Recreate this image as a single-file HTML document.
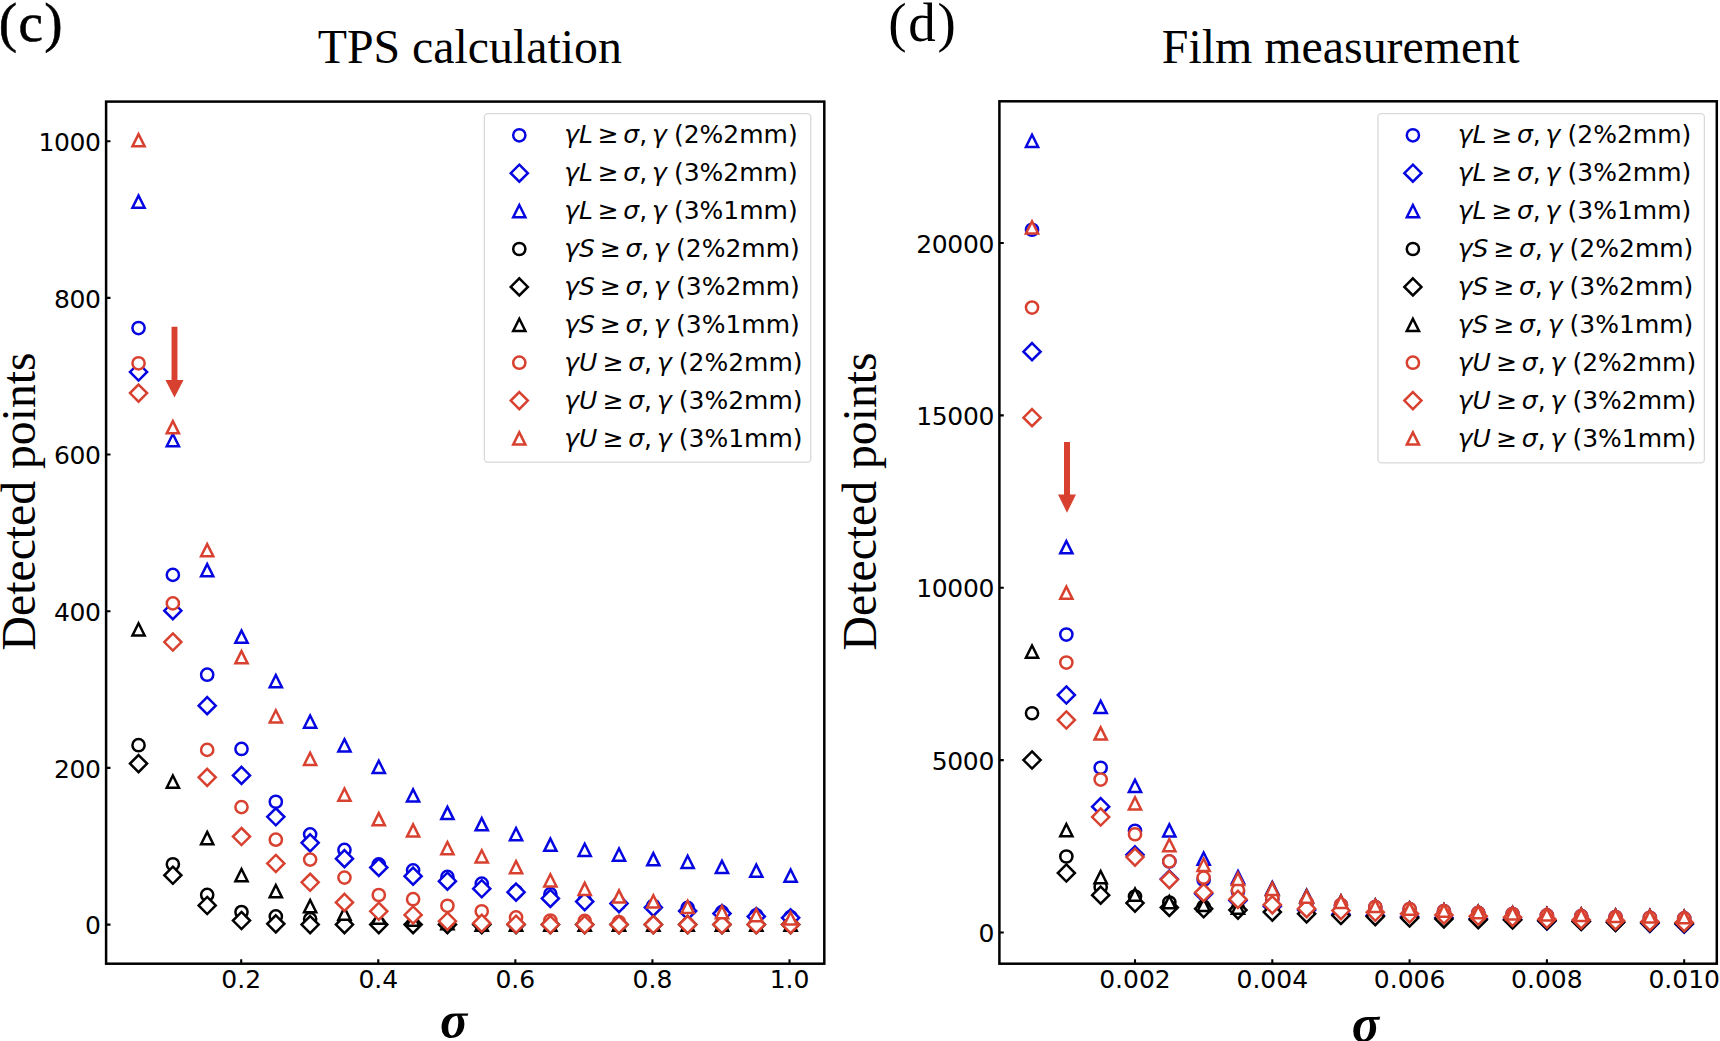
<!DOCTYPE html>
<html lang="en"><head><meta charset="utf-8"><title>Detected points vs sigma</title>
<style>html,body{margin:0;padding:0;background:#fff}svg{display:block}.tk{font-family:"DejaVu Sans","Liberation Sans",sans-serif;font-size:25px;fill:#000}.lg{font-family:"DejaVu Sans","Liberation Sans",sans-serif;font-size:25px;fill:#000}.it{font-style:italic}.sf{font-family:"Liberation Serif",serif;fill:#000}</style></head><body>
<svg width="1720" height="1041" viewBox="0 0 1720 1041">
<rect width="1720" height="1041" fill="#fff"/>
<defs>
<circle id="mc" r="6.1" fill="#fff" stroke-width="2.5"/>
<path id="md" d="M0 -8.55 L8.55 0 L0 8.55 L-8.55 0 Z" fill="#fff" stroke-width="2.5" stroke-linejoin="miter"/>
<path id="mt" d="M0 -6.1 L6.1 6.1 L-6.1 6.1 Z" fill="#fff" stroke-width="2.5" stroke-linejoin="miter" stroke-miterlimit="10"/>
</defs>
<text class="sf" x="-1.2" y="40.8" font-size="55" letter-spacing="1.3" stroke="#000" stroke-width="0.55">(c)</text>
<text class="sf" x="888.3" y="41" font-size="55" letter-spacing="1.7">(d)</text>
<text class="sf" x="317.8" y="62.8" font-size="47.8">TPS calculation</text>
<text class="sf" x="1161.8" y="62.6" font-size="47.9">Film measurement</text>
<g stroke="#0606e0">
<use href="#mc" x="138.54" y="328.04"/><use href="#mc" x="172.86" y="574.89"/><use href="#mc" x="207.18" y="674.7"/><use href="#mc" x="241.5" y="748.96"/><use href="#mc" x="275.82" y="801.76"/><use href="#mc" x="310.14" y="834.35"/><use href="#mc" x="344.46" y="849.86"/><use href="#mc" x="378.78" y="864.43"/><use href="#mc" x="413.1" y="870.39"/><use href="#mc" x="447.42" y="876.89"/><use href="#mc" x="481.74" y="883.71"/><use href="#mc" x="516.06" y="891.7"/><use href="#mc" x="550.38" y="894.13"/><use href="#mc" x="584.7" y="900.31"/><use href="#mc" x="619.02" y="903.45"/><use href="#mc" x="653.34" y="905.8"/><use href="#mc" x="687.66" y="907.84"/><use href="#mc" x="721.98" y="912.14"/><use href="#mc" x="756.3" y="915.28"/><use href="#mc" x="790.62" y="917"/>
</g>
<g stroke="#0606e0">
<use href="#md" x="138.54" y="371.99"/><use href="#md" x="172.86" y="610.69"/><use href="#md" x="207.18" y="705.64"/><use href="#md" x="241.5" y="775.44"/><use href="#md" x="275.82" y="816.8"/><use href="#md" x="310.14" y="842.81"/><use href="#md" x="344.46" y="858.64"/><use href="#md" x="378.78" y="867.41"/><use href="#md" x="413.1" y="876.19"/><use href="#md" x="447.42" y="881.2"/><use href="#md" x="481.74" y="888.72"/><use href="#md" x="516.06" y="892.17"/><use href="#md" x="550.38" y="898.43"/><use href="#md" x="584.7" y="901.57"/><use href="#md" x="619.02" y="903.6"/><use href="#md" x="653.34" y="907.44"/><use href="#md" x="687.66" y="910.97"/><use href="#md" x="721.98" y="913.55"/><use href="#md" x="756.3" y="916.45"/><use href="#md" x="790.62" y="917.86"/>
</g>
<g stroke="#0606e0">
<use href="#mt" x="138.54" y="201.68"/><use href="#mt" x="172.86" y="440.07"/><use href="#mt" x="207.18" y="570.19"/><use href="#mt" x="241.5" y="636.7"/><use href="#mt" x="275.82" y="681.04"/><use href="#mt" x="310.14" y="721.54"/><use href="#mt" x="344.46" y="745.28"/><use href="#mt" x="378.78" y="766.82"/><use href="#mt" x="413.1" y="795.42"/><use href="#mt" x="447.42" y="812.97"/><use href="#mt" x="481.74" y="824.25"/><use href="#mt" x="516.06" y="834.12"/><use href="#mt" x="550.38" y="844.77"/><use href="#mt" x="584.7" y="849.79"/><use href="#mt" x="619.02" y="854.64"/><use href="#mt" x="653.34" y="859.26"/><use href="#mt" x="687.66" y="861.85"/><use href="#mt" x="721.98" y="866.94"/><use href="#mt" x="756.3" y="870.7"/><use href="#mt" x="790.62" y="875.64"/>
</g>
<g stroke="#000000">
<use href="#mc" x="138.54" y="745.2"/><use href="#mc" x="172.86" y="864.28"/><use href="#mc" x="207.18" y="894.83"/><use href="#mc" x="241.5" y="912.07"/><use href="#mc" x="275.82" y="916.45"/><use href="#mc" x="310.14" y="919.12"/><use href="#mc" x="344.46" y="922.25"/><use href="#mc" x="378.78" y="923.82"/><use href="#mc" x="413.1" y="924.21"/><use href="#mc" x="447.42" y="924.6"/><use href="#mc" x="481.74" y="924.6"/><use href="#mc" x="516.06" y="924.6"/><use href="#mc" x="550.38" y="924.6"/><use href="#mc" x="584.7" y="924.6"/><use href="#mc" x="619.02" y="924.6"/><use href="#mc" x="653.34" y="924.6"/><use href="#mc" x="687.66" y="924.6"/><use href="#mc" x="721.98" y="924.6"/><use href="#mc" x="756.3" y="924.6"/><use href="#mc" x="790.62" y="924.6"/>
</g>
<g stroke="#000000">
<use href="#md" x="138.54" y="763.61"/><use href="#md" x="172.86" y="875.25"/><use href="#md" x="207.18" y="905.49"/><use href="#md" x="241.5" y="920.53"/><use href="#md" x="275.82" y="923.82"/><use href="#md" x="310.14" y="924.6"/><use href="#md" x="344.46" y="924.6"/><use href="#md" x="378.78" y="924.6"/><use href="#md" x="413.1" y="924.6"/><use href="#md" x="447.42" y="924.6"/><use href="#md" x="481.74" y="924.6"/><use href="#md" x="516.06" y="924.6"/><use href="#md" x="550.38" y="924.6"/><use href="#md" x="584.7" y="924.6"/><use href="#md" x="619.02" y="924.6"/><use href="#md" x="653.34" y="924.6"/><use href="#md" x="687.66" y="924.6"/><use href="#md" x="721.98" y="924.6"/><use href="#md" x="756.3" y="924.6"/><use href="#md" x="790.62" y="924.6"/>
</g>
<g stroke="#000000">
<use href="#mt" x="138.54" y="629.34"/><use href="#mt" x="172.86" y="781.63"/><use href="#mt" x="207.18" y="838.03"/><use href="#mt" x="241.5" y="875.09"/><use href="#mt" x="275.82" y="891.15"/><use href="#mt" x="310.14" y="906.11"/><use href="#mt" x="344.46" y="913.71"/><use href="#mt" x="378.78" y="917.63"/><use href="#mt" x="413.1" y="919.66"/><use href="#mt" x="447.42" y="923.03"/><use href="#mt" x="481.74" y="924.6"/><use href="#mt" x="516.06" y="924.6"/><use href="#mt" x="550.38" y="924.6"/><use href="#mt" x="584.7" y="924.6"/><use href="#mt" x="619.02" y="924.6"/><use href="#mt" x="653.34" y="924.6"/><use href="#mt" x="687.66" y="924.6"/><use href="#mt" x="721.98" y="924.6"/><use href="#mt" x="756.3" y="924.6"/><use href="#mt" x="790.62" y="924.6"/>
</g>
<g stroke="#d84130">
<use href="#mc" x="138.54" y="363.29"/><use href="#mc" x="172.86" y="603.41"/><use href="#mc" x="207.18" y="749.9"/><use href="#mc" x="241.5" y="807.09"/><use href="#mc" x="275.82" y="839.68"/><use href="#mc" x="310.14" y="859.58"/><use href="#mc" x="344.46" y="877.6"/><use href="#mc" x="378.78" y="894.99"/><use href="#mc" x="413.1" y="899.22"/><use href="#mc" x="447.42" y="905.8"/><use href="#mc" x="481.74" y="911.28"/><use href="#mc" x="516.06" y="917.39"/><use href="#mc" x="550.38" y="920.53"/><use href="#mc" x="584.7" y="920.92"/><use href="#mc" x="619.02" y="922.09"/><use href="#mc" x="653.34" y="923.97"/><use href="#mc" x="687.66" y="924.21"/><use href="#mc" x="721.98" y="924.36"/><use href="#mc" x="756.3" y="924.6"/><use href="#mc" x="790.62" y="924.6"/>
</g>
<g stroke="#d84130">
<use href="#md" x="138.54" y="393.06"/><use href="#md" x="172.86" y="642.03"/><use href="#md" x="207.18" y="777.32"/><use href="#md" x="241.5" y="836.55"/><use href="#md" x="275.82" y="863.49"/><use href="#md" x="310.14" y="882.3"/><use href="#md" x="344.46" y="902.43"/><use href="#md" x="378.78" y="911.28"/><use href="#md" x="413.1" y="914.96"/><use href="#md" x="447.42" y="921.23"/><use href="#md" x="481.74" y="923.27"/><use href="#md" x="516.06" y="924.21"/><use href="#md" x="550.38" y="924.6"/><use href="#md" x="584.7" y="924.6"/><use href="#md" x="619.02" y="924.6"/><use href="#md" x="653.34" y="924.6"/><use href="#md" x="687.66" y="924.6"/><use href="#md" x="721.98" y="924.6"/><use href="#md" x="756.3" y="924.6"/><use href="#md" x="790.62" y="924.6"/>
</g>
<g stroke="#d84130">
<use href="#mt" x="138.54" y="140.26"/><use href="#mt" x="172.86" y="427.22"/><use href="#mt" x="207.18" y="550.21"/><use href="#mt" x="241.5" y="657.23"/><use href="#mt" x="275.82" y="716.29"/><use href="#mt" x="310.14" y="758.91"/><use href="#mt" x="344.46" y="794.63"/><use href="#mt" x="378.78" y="819.23"/><use href="#mt" x="413.1" y="830.51"/><use href="#mt" x="447.42" y="848.06"/><use href="#mt" x="481.74" y="856.29"/><use href="#mt" x="516.06" y="867.18"/><use href="#mt" x="550.38" y="880.34"/><use href="#mt" x="584.7" y="888.96"/><use href="#mt" x="619.02" y="896.48"/><use href="#mt" x="653.34" y="901.41"/><use href="#mt" x="687.66" y="906.9"/><use href="#mt" x="721.98" y="912.07"/><use href="#mt" x="756.3" y="915.2"/><use href="#mt" x="790.62" y="918.33"/>
</g>
<path d="M241.2 963.7 V959.3 M378.28 963.7 V959.3 M515.36 963.7 V959.3 M652.44 963.7 V959.3 M789.52 963.7 V959.3 M106.1 924.6 H110.5 M106.1 767.92 H110.5 M106.1 611.24 H110.5 M106.1 454.56 H110.5 M106.1 297.88 H110.5 M106.1 141.2 H110.5" stroke="#000" stroke-width="2.1" fill="none"/>
<rect x="106.1" y="101.6" width="718.2" height="862.1" fill="none" stroke="#000" stroke-width="2.5"/>
<text class="tk" x="241.2" y="987.5" text-anchor="middle">0.2</text>
<text class="tk" x="378.28" y="987.5" text-anchor="middle">0.4</text>
<text class="tk" x="515.36" y="987.5" text-anchor="middle">0.6</text>
<text class="tk" x="652.44" y="987.5" text-anchor="middle">0.8</text>
<text class="tk" x="789.52" y="987.5" text-anchor="middle">1.0</text>
<text class="tk" x="100.6" y="934.3" text-anchor="end" letter-spacing="-0.4">0</text>
<text class="tk" x="100.6" y="777.62" text-anchor="end" letter-spacing="-0.4">200</text>
<text class="tk" x="100.6" y="620.94" text-anchor="end" letter-spacing="-0.4">400</text>
<text class="tk" x="100.6" y="464.26" text-anchor="end" letter-spacing="-0.4">600</text>
<text class="tk" x="100.6" y="307.58" text-anchor="end" letter-spacing="-0.4">800</text>
<text class="tk" x="100.6" y="150.9" text-anchor="end" letter-spacing="-0.4">1000</text>
<rect x="484.4" y="113.7" width="326.4" height="348.5" rx="3.5" ry="3.5" fill="#fff" fill-opacity="0.8" stroke="#d9d9d9" stroke-width="1.3"/>
<use href="#mc" x="519.3" y="135.3" stroke="#0606e0"/>
<text class="lg" y="143.4"><tspan class="it" x="564.2">γL</tspan><tspan x="589.85"> ≥ </tspan><tspan class="it" x="623.3">σ</tspan>, <tspan class="it" x="652">γ</tspan><tspan x="665.95"> (2%2mm)</tspan></text>
<use href="#md" x="519.3" y="173.2" stroke="#0606e0"/>
<text class="lg" y="181.3"><tspan class="it" x="564.2">γL</tspan><tspan x="589.85"> ≥ </tspan><tspan class="it" x="623.3">σ</tspan>, <tspan class="it" x="652">γ</tspan><tspan x="665.95"> (3%2mm)</tspan></text>
<use href="#mt" x="519.3" y="211.1" stroke="#0606e0"/>
<text class="lg" y="219.2"><tspan class="it" x="564.2">γL</tspan><tspan x="589.85"> ≥ </tspan><tspan class="it" x="623.3">σ</tspan>, <tspan class="it" x="652">γ</tspan><tspan x="665.95"> (3%1mm)</tspan></text>
<use href="#mc" x="519.3" y="249" stroke="#000000"/>
<text class="lg" y="257.1"><tspan class="it" x="564.2">γS</tspan><tspan x="591.95"> ≥ </tspan><tspan class="it" x="625.4">σ</tspan>, <tspan class="it" x="654.1">γ</tspan><tspan x="668.05"> (2%2mm)</tspan></text>
<use href="#md" x="519.3" y="286.9" stroke="#000000"/>
<text class="lg" y="295"><tspan class="it" x="564.2">γS</tspan><tspan x="591.95"> ≥ </tspan><tspan class="it" x="625.4">σ</tspan>, <tspan class="it" x="654.1">γ</tspan><tspan x="668.05"> (3%2mm)</tspan></text>
<use href="#mt" x="519.3" y="324.8" stroke="#000000"/>
<text class="lg" y="332.9"><tspan class="it" x="564.2">γS</tspan><tspan x="591.95"> ≥ </tspan><tspan class="it" x="625.4">σ</tspan>, <tspan class="it" x="654.1">γ</tspan><tspan x="668.05"> (3%1mm)</tspan></text>
<use href="#mc" x="519.3" y="362.7" stroke="#d84130"/>
<text class="lg" y="370.8"><tspan class="it" x="564.2">γU</tspan><tspan x="594.75"> ≥ </tspan><tspan class="it" x="628.2">σ</tspan>, <tspan class="it" x="656.9">γ</tspan><tspan x="670.85"> (2%2mm)</tspan></text>
<use href="#md" x="519.3" y="400.6" stroke="#d84130"/>
<text class="lg" y="408.7"><tspan class="it" x="564.2">γU</tspan><tspan x="594.75"> ≥ </tspan><tspan class="it" x="628.2">σ</tspan>, <tspan class="it" x="656.9">γ</tspan><tspan x="670.85"> (3%2mm)</tspan></text>
<use href="#mt" x="519.3" y="438.5" stroke="#d84130"/>
<text class="lg" y="446.6"><tspan class="it" x="564.2">γU</tspan><tspan x="594.75"> ≥ </tspan><tspan class="it" x="628.2">σ</tspan>, <tspan class="it" x="656.9">γ</tspan><tspan x="670.85"> (3%1mm)</tspan></text>
<path d="M171.55 326.7 H177.45 V379.9 H183.55 L174.5 397.4 L165.45 379.9 H171.55 Z" fill="#d84130"/>
<g stroke="#0606e0">
<use href="#mc" x="1032.03" y="229.73"/><use href="#mc" x="1066.35" y="634.53"/><use href="#mc" x="1100.67" y="767.78"/><use href="#mc" x="1135" y="830.8"/><use href="#mc" x="1169.33" y="861.48"/><use href="#mc" x="1203.65" y="879.75"/><use href="#mc" x="1237.97" y="891.47"/><use href="#mc" x="1272.3" y="899.4"/><use href="#mc" x="1306.62" y="903.54"/><use href="#mc" x="1340.95" y="905.26"/><use href="#mc" x="1375.28" y="907.16"/><use href="#mc" x="1409.6" y="909.23"/><use href="#mc" x="1443.92" y="911.13"/><use href="#mc" x="1478.25" y="912.85"/><use href="#mc" x="1512.58" y="914.06"/><use href="#mc" x="1546.9" y="915.37"/><use href="#mc" x="1581.22" y="916.12"/><use href="#mc" x="1615.55" y="917.06"/><use href="#mc" x="1649.88" y="917.74"/><use href="#mc" x="1684.2" y="918.43"/>
</g>
<g stroke="#0606e0">
<use href="#md" x="1032.03" y="351.67"/><use href="#md" x="1066.35" y="695"/><use href="#md" x="1100.67" y="806.67"/><use href="#md" x="1135" y="854.86"/><use href="#md" x="1169.33" y="879.06"/><use href="#md" x="1203.65" y="893.72"/><use href="#md" x="1237.97" y="900.61"/><use href="#md" x="1272.3" y="906.3"/><use href="#md" x="1306.62" y="910.09"/><use href="#md" x="1340.95" y="914.23"/><use href="#md" x="1375.28" y="915.43"/><use href="#md" x="1409.6" y="916.81"/><use href="#md" x="1443.92" y="917.85"/><use href="#md" x="1478.25" y="918.71"/><use href="#md" x="1512.58" y="919.4"/><use href="#md" x="1546.9" y="920.92"/><use href="#md" x="1581.22" y="921.26"/><use href="#md" x="1615.55" y="922.16"/><use href="#md" x="1649.88" y="923.33"/><use href="#md" x="1684.2" y="924.19"/>
</g>
<g stroke="#0606e0">
<use href="#mt" x="1032.03" y="140.89"/><use href="#mt" x="1066.35" y="547.24"/><use href="#mt" x="1100.67" y="706.86"/><use href="#mt" x="1135" y="785.81"/><use href="#mt" x="1169.33" y="830.45"/><use href="#mt" x="1203.65" y="858.55"/><use href="#mt" x="1237.97" y="877.03"/><use href="#mt" x="1272.3" y="888.03"/><use href="#mt" x="1306.62" y="895.96"/><use href="#mt" x="1340.95" y="901.82"/><use href="#mt" x="1375.28" y="905.95"/><use href="#mt" x="1409.6" y="908.71"/><use href="#mt" x="1443.92" y="910.57"/><use href="#mt" x="1478.25" y="912.16"/><use href="#mt" x="1512.58" y="913.3"/><use href="#mt" x="1546.9" y="914.44"/><use href="#mt" x="1581.22" y="915.02"/><use href="#mt" x="1615.55" y="915.95"/><use href="#mt" x="1649.88" y="916.47"/><use href="#mt" x="1684.2" y="917.09"/>
</g>
<g stroke="#000000">
<use href="#mc" x="1032.03" y="713.24"/><use href="#mc" x="1066.35" y="856.52"/><use href="#mc" x="1100.67" y="886.99"/><use href="#mc" x="1135" y="896.51"/><use href="#mc" x="1169.33" y="902.54"/><use href="#mc" x="1203.65" y="906.64"/><use href="#mc" x="1237.97" y="908.71"/><use href="#mc" x="1272.3" y="910.44"/><use href="#mc" x="1306.62" y="911.82"/><use href="#mc" x="1340.95" y="910.57"/><use href="#mc" x="1375.28" y="912.23"/><use href="#mc" x="1409.6" y="913.71"/><use href="#mc" x="1443.92" y="915.12"/><use href="#mc" x="1478.25" y="916.3"/><use href="#mc" x="1512.58" y="917.33"/><use href="#mc" x="1546.9" y="919.3"/><use href="#mc" x="1581.22" y="919.92"/><use href="#mc" x="1615.55" y="920.85"/><use href="#mc" x="1649.88" y="921.85"/><use href="#mc" x="1684.2" y="922.61"/>
</g>
<g stroke="#000000">
<use href="#md" x="1032.03" y="760.02"/><use href="#md" x="1066.35" y="873"/><use href="#md" x="1100.67" y="895.13"/><use href="#md" x="1135" y="903.06"/><use href="#md" x="1169.33" y="907.4"/><use href="#md" x="1203.65" y="908.71"/><use href="#md" x="1237.97" y="910.09"/><use href="#md" x="1272.3" y="912.09"/><use href="#md" x="1306.62" y="913.81"/><use href="#md" x="1340.95" y="915.5"/><use href="#md" x="1375.28" y="916.57"/><use href="#md" x="1409.6" y="917.99"/><use href="#md" x="1443.92" y="918.88"/><use href="#md" x="1478.25" y="919.74"/><use href="#md" x="1512.58" y="919.99"/><use href="#md" x="1546.9" y="920.78"/><use href="#md" x="1581.22" y="921.54"/><use href="#md" x="1615.55" y="922.33"/><use href="#md" x="1649.88" y="922.85"/><use href="#md" x="1684.2" y="923.47"/>
</g>
<g stroke="#000000">
<use href="#mt" x="1032.03" y="651.63"/><use href="#mt" x="1066.35" y="830.11"/><use href="#mt" x="1100.67" y="877.13"/><use href="#mt" x="1135" y="894.58"/><use href="#mt" x="1169.33" y="902.16"/><use href="#mt" x="1203.65" y="904.92"/><use href="#mt" x="1237.97" y="907.68"/><use href="#mt" x="1272.3" y="888.79"/><use href="#mt" x="1306.62" y="896.58"/><use href="#mt" x="1340.95" y="901.82"/><use href="#mt" x="1375.28" y="905.95"/><use href="#mt" x="1409.6" y="908.71"/><use href="#mt" x="1443.92" y="910.57"/><use href="#mt" x="1478.25" y="912.16"/><use href="#mt" x="1512.58" y="913.3"/><use href="#mt" x="1546.9" y="914.44"/><use href="#mt" x="1581.22" y="915.02"/><use href="#mt" x="1615.55" y="915.95"/><use href="#mt" x="1649.88" y="916.47"/><use href="#mt" x="1684.2" y="917.09"/>
</g>
<g stroke="#d84130">
<use href="#mc" x="1032.03" y="307.57"/><use href="#mc" x="1066.35" y="662.53"/><use href="#mc" x="1100.67" y="779.53"/><use href="#mc" x="1135" y="834.25"/><use href="#mc" x="1169.33" y="861.41"/><use href="#mc" x="1203.65" y="877.62"/><use href="#mc" x="1237.97" y="890.1"/><use href="#mc" x="1272.3" y="898.37"/><use href="#mc" x="1306.62" y="902.51"/><use href="#mc" x="1340.95" y="904.92"/><use href="#mc" x="1375.28" y="906.99"/><use href="#mc" x="1409.6" y="909.06"/><use href="#mc" x="1443.92" y="911.13"/><use href="#mc" x="1478.25" y="912.85"/><use href="#mc" x="1512.58" y="914.06"/><use href="#mc" x="1546.9" y="915.37"/><use href="#mc" x="1581.22" y="916.12"/><use href="#mc" x="1615.55" y="917.06"/><use href="#mc" x="1649.88" y="917.74"/><use href="#mc" x="1684.2" y="918.43"/>
</g>
<g stroke="#d84130">
<use href="#md" x="1032.03" y="417.68"/><use href="#md" x="1066.35" y="720"/><use href="#md" x="1100.67" y="817.01"/><use href="#md" x="1135" y="857.1"/><use href="#md" x="1169.33" y="879.58"/><use href="#md" x="1203.65" y="892.61"/><use href="#md" x="1237.97" y="899.34"/><use href="#md" x="1272.3" y="904.82"/><use href="#md" x="1306.62" y="908.64"/><use href="#md" x="1340.95" y="910.57"/><use href="#md" x="1375.28" y="912.23"/><use href="#md" x="1409.6" y="913.85"/><use href="#md" x="1443.92" y="915.12"/><use href="#md" x="1478.25" y="916.3"/><use href="#md" x="1512.58" y="917.33"/><use href="#md" x="1546.9" y="919.3"/><use href="#md" x="1581.22" y="919.92"/><use href="#md" x="1615.55" y="920.85"/><use href="#md" x="1649.88" y="921.85"/><use href="#md" x="1684.2" y="922.61"/>
</g>
<g stroke="#d84130">
<use href="#mt" x="1032.03" y="227.42"/><use href="#mt" x="1066.35" y="592.75"/><use href="#mt" x="1100.67" y="733.48"/><use href="#mt" x="1135" y="803.29"/><use href="#mt" x="1169.33" y="845.11"/><use href="#mt" x="1203.65" y="864.86"/><use href="#mt" x="1237.97" y="878.79"/><use href="#mt" x="1272.3" y="888.79"/><use href="#mt" x="1306.62" y="896.58"/><use href="#mt" x="1340.95" y="901.82"/><use href="#mt" x="1375.28" y="905.95"/><use href="#mt" x="1409.6" y="908.71"/><use href="#mt" x="1443.92" y="910.57"/><use href="#mt" x="1478.25" y="912.16"/><use href="#mt" x="1512.58" y="913.3"/><use href="#mt" x="1546.9" y="914.44"/><use href="#mt" x="1581.22" y="915.02"/><use href="#mt" x="1615.55" y="915.95"/><use href="#mt" x="1649.88" y="916.47"/><use href="#mt" x="1684.2" y="917.09"/>
</g>
<path d="M1135 963.7 V959.3 M1272.3 963.7 V959.3 M1409.6 963.7 V959.3 M1546.9 963.7 V959.3 M1684.2 963.7 V959.3 M999.4 932.5 H1003.8 M999.4 760.12 H1003.8 M999.4 587.75 H1003.8 M999.4 415.38 H1003.8 M999.4 243 H1003.8" stroke="#000" stroke-width="2.1" fill="none"/>
<rect x="999.4" y="101.3" width="717.4" height="862.4" fill="none" stroke="#000" stroke-width="2.5"/>
<text class="tk" x="1135" y="987.5" text-anchor="middle">0.002</text>
<text class="tk" x="1272.3" y="987.5" text-anchor="middle">0.004</text>
<text class="tk" x="1409.6" y="987.5" text-anchor="middle">0.006</text>
<text class="tk" x="1546.9" y="987.5" text-anchor="middle">0.008</text>
<text class="tk" x="1684.2" y="987.5" text-anchor="middle">0.010</text>
<text class="tk" x="993.9" y="942.2" text-anchor="end" letter-spacing="-0.4">0</text>
<text class="tk" x="993.9" y="769.83" text-anchor="end" letter-spacing="-0.4">5000</text>
<text class="tk" x="993.9" y="597.45" text-anchor="end" letter-spacing="-0.4">10000</text>
<text class="tk" x="993.9" y="425.07" text-anchor="end" letter-spacing="-0.4">15000</text>
<text class="tk" x="993.9" y="252.7" text-anchor="end" letter-spacing="-0.4">20000</text>
<rect x="1378" y="113.7" width="326.4" height="349.1" rx="3.5" ry="3.5" fill="#fff" fill-opacity="0.8" stroke="#d9d9d9" stroke-width="1.3"/>
<use href="#mc" x="1412.9" y="135.3" stroke="#0606e0"/>
<text class="lg" y="143.4"><tspan class="it" x="1457.8">γL</tspan><tspan x="1483.45"> ≥ </tspan><tspan class="it" x="1516.9">σ</tspan>, <tspan class="it" x="1545.6">γ</tspan><tspan x="1559.55"> (2%2mm)</tspan></text>
<use href="#md" x="1412.9" y="173.2" stroke="#0606e0"/>
<text class="lg" y="181.3"><tspan class="it" x="1457.8">γL</tspan><tspan x="1483.45"> ≥ </tspan><tspan class="it" x="1516.9">σ</tspan>, <tspan class="it" x="1545.6">γ</tspan><tspan x="1559.55"> (3%2mm)</tspan></text>
<use href="#mt" x="1412.9" y="211.1" stroke="#0606e0"/>
<text class="lg" y="219.2"><tspan class="it" x="1457.8">γL</tspan><tspan x="1483.45"> ≥ </tspan><tspan class="it" x="1516.9">σ</tspan>, <tspan class="it" x="1545.6">γ</tspan><tspan x="1559.55"> (3%1mm)</tspan></text>
<use href="#mc" x="1412.9" y="249" stroke="#000000"/>
<text class="lg" y="257.1"><tspan class="it" x="1457.8">γS</tspan><tspan x="1485.55"> ≥ </tspan><tspan class="it" x="1519">σ</tspan>, <tspan class="it" x="1547.7">γ</tspan><tspan x="1561.65"> (2%2mm)</tspan></text>
<use href="#md" x="1412.9" y="286.9" stroke="#000000"/>
<text class="lg" y="295"><tspan class="it" x="1457.8">γS</tspan><tspan x="1485.55"> ≥ </tspan><tspan class="it" x="1519">σ</tspan>, <tspan class="it" x="1547.7">γ</tspan><tspan x="1561.65"> (3%2mm)</tspan></text>
<use href="#mt" x="1412.9" y="324.8" stroke="#000000"/>
<text class="lg" y="332.9"><tspan class="it" x="1457.8">γS</tspan><tspan x="1485.55"> ≥ </tspan><tspan class="it" x="1519">σ</tspan>, <tspan class="it" x="1547.7">γ</tspan><tspan x="1561.65"> (3%1mm)</tspan></text>
<use href="#mc" x="1412.9" y="362.7" stroke="#d84130"/>
<text class="lg" y="370.8"><tspan class="it" x="1457.8">γU</tspan><tspan x="1488.35"> ≥ </tspan><tspan class="it" x="1521.8">σ</tspan>, <tspan class="it" x="1550.5">γ</tspan><tspan x="1564.45"> (2%2mm)</tspan></text>
<use href="#md" x="1412.9" y="400.6" stroke="#d84130"/>
<text class="lg" y="408.7"><tspan class="it" x="1457.8">γU</tspan><tspan x="1488.35"> ≥ </tspan><tspan class="it" x="1521.8">σ</tspan>, <tspan class="it" x="1550.5">γ</tspan><tspan x="1564.45"> (3%2mm)</tspan></text>
<use href="#mt" x="1412.9" y="438.5" stroke="#d84130"/>
<text class="lg" y="446.6"><tspan class="it" x="1457.8">γU</tspan><tspan x="1488.35"> ≥ </tspan><tspan class="it" x="1521.8">σ</tspan>, <tspan class="it" x="1550.5">γ</tspan><tspan x="1564.45"> (3%1mm)</tspan></text>
<path d="M1064 442 H1070 V494.5 H1076 L1067 512.7 L1058 494.5 H1064 Z" fill="#d84130"/>
<text class="sf" font-size="47.7" text-anchor="middle" transform="translate(35.4 501.4) rotate(-90)">Detected points</text>
<text class="sf" font-size="47.7" text-anchor="middle" transform="translate(875.5 501.4) rotate(-90)">Detected points</text>
<clipPath id="cs1"><rect x="400" y="1013.6" width="120" height="40"/></clipPath>
<clipPath id="cs2"><rect x="1300" y="1016.8" width="120" height="40"/></clipPath>
<text class="sf" font-size="52" font-style="italic" font-weight="bold" x="440" y="1037.4" clip-path="url(#cs1)">σ</text>
<text class="sf" font-size="52" font-style="italic" font-weight="bold" x="1351.7" y="1040.6" clip-path="url(#cs2)">σ</text>
</svg></body></html>
